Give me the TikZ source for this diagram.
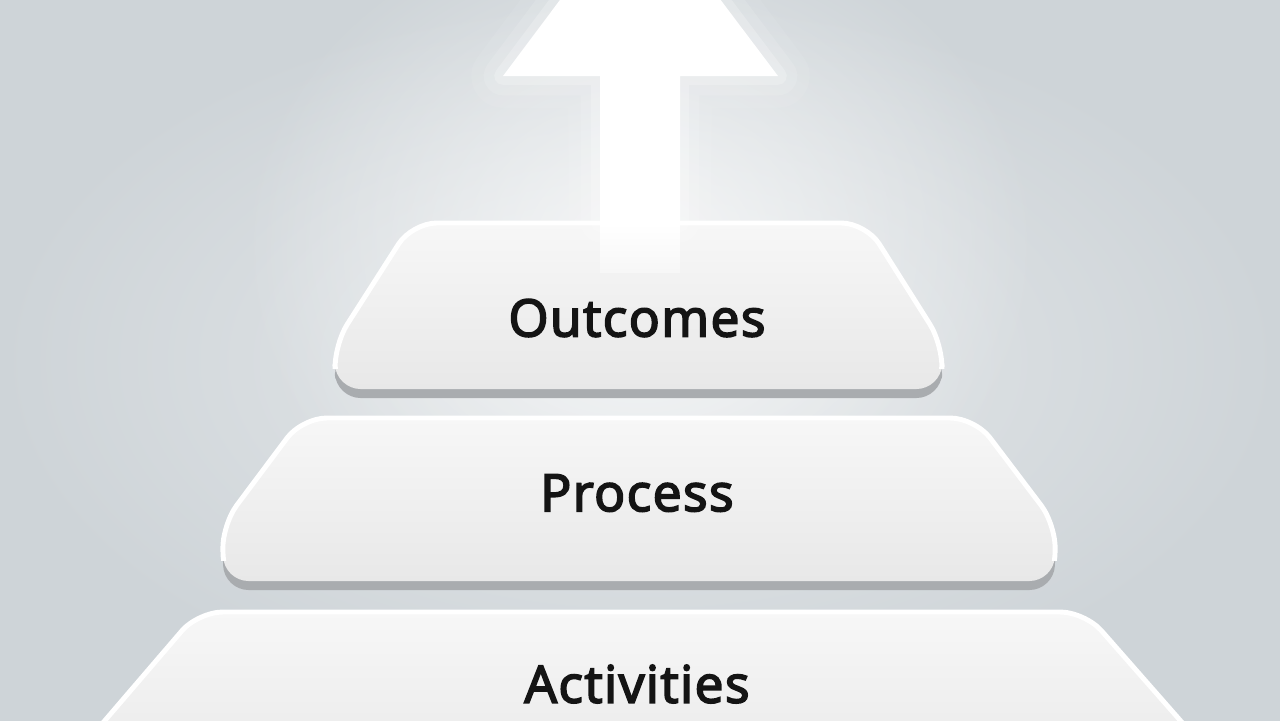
\documentclass[tikz,border=0pt]{standalone}
\usepackage{fontspec}
\setmainfont{Open Sans}
\newfontfamily\labelfont{Open Sans}[FakeBold=3.5, LetterSpace=3]
\usetikzlibrary{fadings}

\definecolor{bgouter}{HTML}{CED4D8}
\definecolor{bginner}{HTML}{E6E9EB}
\definecolor{tiertop}{HTML}{F7F7F7}
\definecolor{tierbottom}{HTML}{E8E8E8}
\definecolor{tieredge}{HTML}{A9ACAF}
\definecolor{labelink}{HTML}{141414}

\tikzfading[name=glowfade, inner color=transparent!0, outer color=transparent!100]

% one step of the stack: bottom x left/right, top x left/right, top y, knee y, bottom y
\newcommand{\tiershape}[7]{({#1+2},#7) -- (#1,#6) -- (#3,#5) -- (#4,#5) -- (#2,#6) -- ({#2-2},#7) -- cycle}
\newcommand{\arrowoutline}{(600,223) -- (600,76) -- (503,76) -- (640,-107) -- (778,76) -- (680,76) -- (680,223) -- cycle}

\tikzset{
  tierbase/.style={fill=tieredge, rounded corners=7pt},
  tierbody/.style={top color=tiertop, bottom color=tierbottom, rounded corners=7pt},
  tierrim/.style={draw=white, line width=1.4pt, rounded corners=7pt},
  tierlabel/.style={font=\labelfont\fontsize{14.6}{17}\selectfont, text=labelink, inner sep=0pt},
  halo/.style={draw=white, line join=round, opacity=.12},
}

\begin{document}
\begin{tikzpicture}[x=0.01cm, y=-0.01cm]
  \useasboundingbox (0,0) rectangle (1280,720);
  \clip (0,0) rectangle (1280,720);
  \shade[inner color=bginner, outer color=bgouter] (0,0) rectangle (1280,720);
  \fill[white, path fading=glowfade, opacity=.7] (640,250) ellipse (400 and 340);

  % activities
  \fill[tierbase, yshift=-0.08cm] \tiershape{71}{1215}{198}{1085}{612}{760}{790};
  \shade[tierbody] \tiershape{71}{1215}{198}{1085}{612}{760}{790};
  \draw[tierrim] \tiershape{71}{1215}{198}{1085}{612}{760}{790};

  % process
  \fill[tierbase, yshift=-0.09cm] \tiershape{222}{1056}{302}{975}{418}{525}{581};
  \shade[tierbody] \tiershape{222}{1056}{302}{975}{418}{525}{581};
  \begin{scope}
    \clip (0,0) rectangle (1280,560);
    \draw[tierrim] \tiershape{222}{1056}{302}{975}{418}{525}{581};
  \end{scope}

  % outcomes
  \fill[tierbase, yshift=-0.09cm] \tiershape{334}{943}{412}{866}{223}{345}{389};
  \shade[tierbody] \tiershape{334}{943}{412}{866}{223}{345}{389};
  \begin{scope}
    \clip (0,0) rectangle (1280,368);
    \draw[tierrim] \tiershape{334}{943}{412}{866}{223}{345}{389};
  \end{scope}

  % arrow
  \path[halo, line width=18pt, opacity=.07] \arrowoutline;
  \path[halo, line width=11pt] \arrowoutline;
  \path[halo, line width=5pt, opacity=.22] \arrowoutline;
  \fill[white] \arrowoutline;
  \shade[top color=white, bottom color=tiertop] (600,223) rectangle (680,272);

  \node[tierlabel] (outcomes) at (637,318) {Outcomes};
  \node[tierlabel] (process) at (637,493) {Process};
  \node[tierlabel] (activities) at (637,684) {Activities};
\end{tikzpicture}
\end{document}
